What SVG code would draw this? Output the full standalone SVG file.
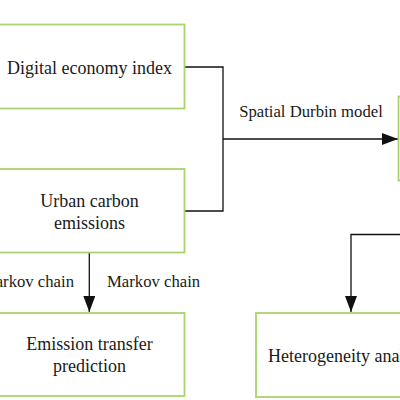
<svg xmlns="http://www.w3.org/2000/svg" width="400" height="400" viewBox="0 0 400 400">
<style>
.box{fill:#fff;stroke:#a8d46e;stroke-width:1.8}
.t{font-family:"Liberation Serif","Times New Roman",serif;font-size:18px;fill:#1a1a1a;text-anchor:middle}
.s{text-anchor:start}
.l{font-family:"Liberation Serif","Times New Roman",serif;font-size:16.7px;fill:#1a1a1a}
.c{fill:none;stroke:#111;stroke-width:1.3}
</style>
<defs>
<marker id="ah" markerUnits="userSpaceOnUse" markerWidth="16" markerHeight="12" refX="16" refY="6" orient="auto">
<path d="M0,0 L16,6 L0,12 Z" fill="#111"/>
</marker>
</defs>
<rect width="400" height="400" fill="#fff"/>
<g id="connectors">
<polyline class="c" points="184,67 223,67 223,211 184,211"/>
<line class="c" x1="223" y1="139" x2="398" y2="139" marker-end="url(#ah)"/>
<line class="c" x1="89.3" y1="253" x2="89.3" y2="312" marker-end="url(#ah)"/>
<polyline class="c" points="401,234.5 351,234.5 351,312" marker-end="url(#ah)"/>
<text class="l" x="311" y="117" text-anchor="middle">Spatial Durbin model</text>
<text class="l" x="74" y="287" text-anchor="end">Markov chain</text>
<text class="l" x="107" y="287">Markov chain</text>
</g>
<g id="digital">
<rect class="box" x="-20" y="24.5" width="204.5" height="84"/>
<text class="t" x="89.5" y="73.5">Digital economy index</text>
</g>
<g id="urban">
<rect class="box" x="-20" y="169" width="204.5" height="83.5"/>
<text class="t" x="89.5" y="207">Urban carbon</text>
<text class="t" x="89.5" y="228.5">emissions</text>
</g>
<g id="emission">
<rect class="box" x="-20" y="313" width="204.5" height="83"/>
<text class="t" x="89.5" y="350">Emission transfer</text>
<text class="t" x="89.5" y="371.5">prediction</text>
</g>
<g id="model">
<rect class="box" x="398.5" y="96.5" width="40" height="84"/>
</g>
<g id="heterogeneity">
<rect class="box" x="256" y="313" width="180" height="84"/>
<text class="t s" x="268" y="362">Heterogeneity analysis</text>
</g>
</svg>
